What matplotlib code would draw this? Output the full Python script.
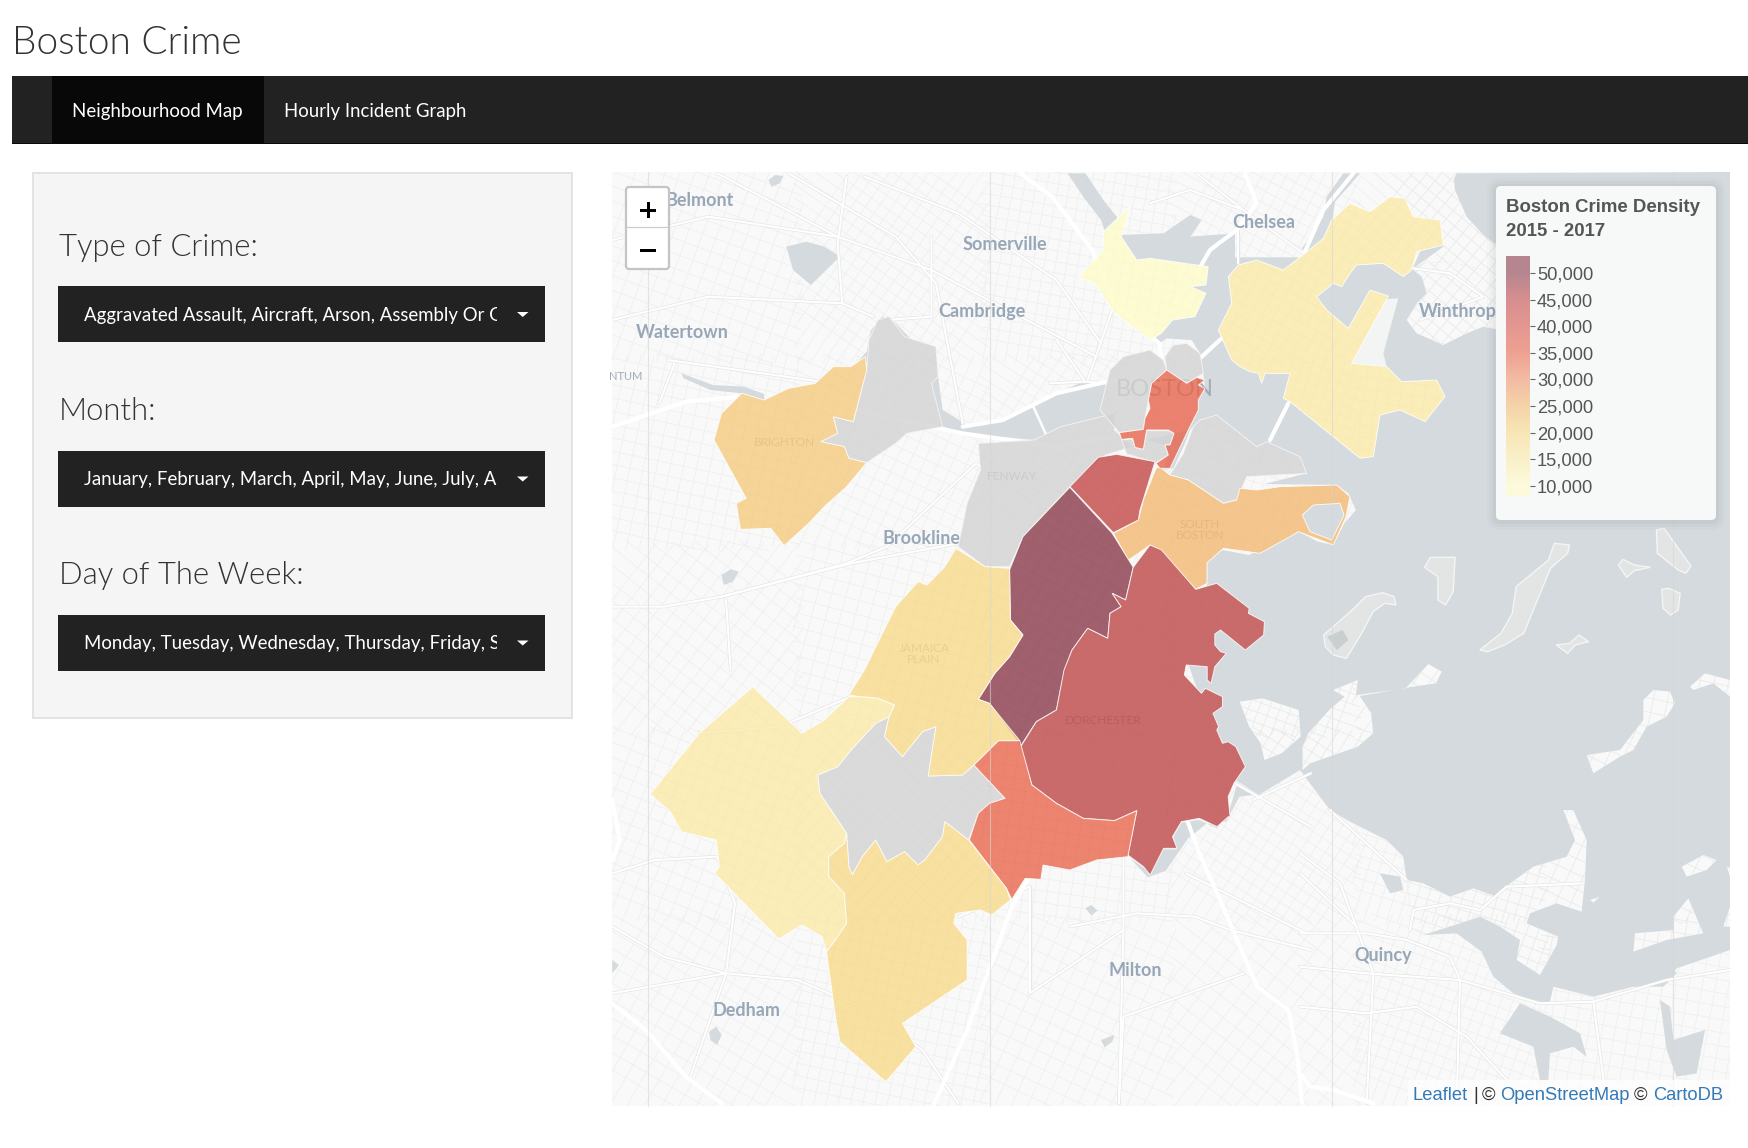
import matplotlib
matplotlib.use('Agg')
import matplotlib.pyplot as plt
import numpy as np
from matplotlib.collections import LineCollection
from matplotlib.colors import LinearSegmentedColormap, Normalize
from matplotlib.patches import Polygon, Rectangle, FancyBboxPatch, PathPatch
from matplotlib.path import Path
from matplotlib.ticker import FuncFormatter

# Tracing frames: (x origin, y origin, x scale, y scale) of the reference crops
def frame(x0, y0, sx, sy):
    return lambda pts: [(x0 + x / sx, y0 + y / sy) for x, y in pts]
Z3 = frame(610, 170, 2.24, 3)
Z4 = frame(610, 640, 2.24, 3)
Z5 = frame(1300, 640, 3, 3)
Z6 = frame(1150, 170, 3, 3)
Z7 = frame(1150, 480, 2.622, 3)
Z8 = frame(1050, 340, 3, 3)

# ---------- data ----------
TITLE = 'Boston Crime'
TABS = ['Neighbourhood Map', 'Hourly Incident Graph']
FILTER_LABELS = ['Type of Crime:', 'Month:', 'Day of The Week:']
FILTER_VALUES = ['Aggravated Assault, Aircraft, Arson, Assembly Or Gathering Violations',
                 'January, February, March, April, May, June, July, August, September',
                 'Monday, Tuesday, Wednesday, Thursday, Friday, Saturday, Sunday']
LEGEND_TITLE = ['Boston Crime Density', '2015 - 2017']
LEGEND_TICKS = [10000, 15000, 20000, 25000, 30000, 35000, 40000, 45000, 50000]
LEGEND_COLORS = ['#fffcc8', '#fceaa9', '#f8da8a', '#f4ba73', '#f0926a', '#e9674d', '#d8564b', '#c14848', '#8a3a4b']

NEIGHBOURHOODS = ['Brighton', 'Charlestown', 'East Boston', 'South Boston', 'South End', 'Downtown',
                  'Roxbury', 'Dorchester', 'Mattapan', 'Jamaica Plain', 'West Roxbury', 'Hyde Park']
CRIMES = [22500, 10000, 15000, 25000, 44500, 35500, 50000, 45000, 35000, 20000, 15000, 20000]

BRIGHTON = Z3([(572,560),(575,600),(565,650),(545,755),(500,740),(510,790),(472,815),(525,830),(535,865),(575,878),(530,950),(480,1010),(445,1060),(390,1127),(360,1075),(292,1078),(283,1000),(305,985),(233,810),(250,730),(295,670),(345,690),(400,655),(460,640),(500,590),(540,590)])
CHARLESTOWN = Z3([(1165,110),(1145,200),(1180,270),(1210,265),(1340,290),(1335,345),(1300,350),(1335,370),(1310,440),(1260,450),(1235,490),(1210,510),(1130,430),(1085,340),(1050,320),(1105,240),(1105,185)])
EAST_BOSTON = Z6([(600,100),(660,125),(720,80),(765,85),(790,140),(870,150),(880,225),(800,245),(785,300),(760,320),(700,280),(620,285),(600,310),(575,350),(550,340),(500,380),(530,420),(595,475),(660,360),(715,378),(605,580),(710,590),(755,635),(860,630),(885,680),(825,755),(750,720),(690,735),(670,860),(630,865),(420,695),(400,685),(420,610),(345,610),(335,640),(325,610),(300,605),(270,590),(245,570),(205,480),(245,400),(235,320),(265,285),(320,270),(400,300),(465,250),(520,205),(545,150)])
SOUTH_BOSTON = Z8([(190,580),(265,540),(280,480),(318,385),(328,380),(360,405),(415,420),(520,490),(560,480),(570,445),(620,450),(690,440),(860,435),(900,470),(888,530),(850,615),(790,592),(745,575),(720,590),(630,640),(520,625),(471,669),(471,730),(437,748),(334,635),(300,615),(265,640),(235,660)])
PLEASURE_BAY = Z8([(757,525),(780,575),(845,600),(882,525),(870,490),(790,495)])
SOUTH_END = Z8([(60,440),(145,352),(200,343),(315,365),(270,510),(265,540),(190,578)])
DOWNTOWN = Z8([(350,90),(410,130),(440,112),(465,120),(445,135),(465,145),(445,180),(445,210),(410,280),(360,385),(330,385),(318,370),(355,345),(345,315),(360,315),(372,280),(355,270),(290,270),(280,328),(255,322),(248,295),(215,298),(208,278),(280,268),(285,235),(300,205),(295,180),(305,130)])
ROXBURY = Z3([(1030,952),(1125,1090),(1172,1192),(1155,1290),(1125,1270),(1145,1310),(1120,1330),(1115,1405),(1070,1375),(1035,1440),(1018,1500)]) + \
          Z4([(1000,210),(955,245),(920,318),(850,190),(825,178),(862,100),(895,50)]) + \
          Z3([(925,1395),(897,1350),(895,1200),(925,1100)])
DORCHESTER = Z7([(0,195),(30,210),(120,328),(175,310),(260,385),(258,400),(300,425),(298,465),(250,510),(185,450),(170,462),(170,495),(185,515),(200,520),(170,560),(160,610),(150,600),(150,560),(95,555),(90,585),(135,640),(145,625),(190,650),(190,680),(165,700),(180,740),(175,750),(190,790),(205,785),(225,800),(250,860),(220,910),(205,950),(210,1010)]) + \
             Z4([(1385,530),(1360,560),(1320,535),(1280,545),(1260,590),(1270,625),(1240,625),(1210,705),(1195,680),(1160,645),(1180,512),(1130,542),(1060,535),(1000,490),(945,435),(920,320),(955,245),(1000,210),(1017,90)]) + \
             Z3([(1035,1440),(1070,1375),(1115,1405),(1120,1330),(1145,1310),(1125,1270),(1155,1290),(1172,1192)])
MATTAPAN = Z4([(870,302),(918,302),(945,435),(1000,490),(1060,535),(1130,542),(1180,512),(1160,650),(1090,660),(1030,690),(970,675),(965,718),(930,715),(900,778),(888,745),(805,600),(825,520),(850,490),(885,475),(815,375)])
JAMAICA_PLAIN = Z3([(775,1135),(840,1190),(895,1195),(897,1350),(925,1395)]) + \
                Z4([(895,50),(862,100),(825,178),(850,190),(918,302),(870,302),(815,375),(790,405),(713,408),(730,260),(700,275),(655,350),(615,290),(625,230),(637,195),(600,175),(560,170),(535,165),(570,90)]) + \
                Z3([(640,1310),(690,1235),(710,1245),(750,1190)])
WEST_ROXBURY = Z4([(320,140),(430,280),(480,240),(535,170),(560,170),(600,175),(637,195),(625,230),(595,250),(540,330),(510,380),(465,405),(470,460),(530,580),(525,610),(490,650),(490,710),(525,760),(530,850),(505,900),(485,935),(475,890),(430,855),(378,897),(235,700),(245,680),(238,600),(160,575),(135,515),(90,462),(200,280)])
HYDE_PARK = Z4([(543,705),(565,650),(595,600),(620,665),(660,635),(690,675),(705,660),(745,590),(750,545),(803,600),(888,745),(897,780),(855,825),(830,810),(775,820),(770,850),(800,900),(800,1020),(655,1150),(685,1220),(618,1325),(515,1205),(505,1130),(485,935),(505,900),(530,850),(525,760),(490,710),(490,650),(525,610),(530,580),(535,680)])
SHAPES = [BRIGHTON, CHARLESTOWN, EAST_BOSTON, SOUTH_BOSTON, SOUTH_END, DOWNTOWN, ROXBURY, DORCHESTER,
          MATTAPAN, JAMAICA_PLAIN, WEST_ROXBURY, HYDE_PARK]

NO_DATA_SHAPES = [
    Z3([(600,450),(625,440),(660,500),(730,530),(735,620),(720,640),(745,770),(665,790),(640,820),(575,878),(535,865),(525,830),(472,815),(510,790),(500,740),(545,755),(565,650),(575,600),(580,510)]),
    Z3([(825,820),(950,810),(1010,770),(1130,730),(1130,780),(1170,830),(1110,855),(1030,950),(925,1100),(895,1190),(840,1190),(780,1130),(800,1000),(830,900)]),
    Z8([(150,210),(180,90),(220,50),(300,30),(340,60),(350,90),(305,130),(295,180),(285,235),(280,268),(208,278)]),
    Z8([(345,50),(370,15),(410,10),(450,40),(460,100),(440,112),(410,130),(350,90)]),
    Z8([(215,300),(248,297),(255,322),(280,328),(290,272),(355,272),(372,280),(360,315),(345,315),(355,345),(318,368),(230,342)]),
    Z8([(360,405),(415,420),(520,490),(560,480),(590,410),(770,400),(750,350),(650,305),(620,320),(500,225),(450,240),(430,260),(400,340)]),
    Z4([(465,405),(510,380),(540,330),(595,250),(625,230),(615,290),(655,350),(700,275),(730,260),(713,408),(790,405),(815,375),(885,475),(850,490),(825,520),(803,600),(750,545),(745,590),(705,660),(690,675),(660,635),(620,665),(595,600),(565,650),(543,705),(535,680),(530,580),(470,460)]),
]

HARBOUR = Z6([(0,490),(170,290),(210,262),(430,262),(620,270),(790,290),(920,10)]) + [(1730,172),(1730,950)] + \
          Z5([(1290,930),(1130,985),(1110,1010),(1000,1040),(880,1070),(760,1040),(750,1085),(720,1090),(640,1060),(580,1010),(545,935),(470,880),(370,885),(330,860),(330,800),(320,720),(310,650),(260,600),(150,545),(90,510),(30,430),(0,390)]) + \
          Z7([(285,945),(225,900),(200,880),(100,550),(150,310),(150,240),(190,210),(260,225),(390,155),(440,185),(480,195),(510,130),(540,90),(520,40),(490,15),(300,12)]) + \
          Z8([(770,400),(750,350),(650,305),(620,320),(500,225),(450,240),(430,260),(410,280),(445,210),(445,180),(465,145),(460,100),(450,40),(425,0)]) + \
          Z6([(120,510),(50,505),(20,525)])
CHARLES_RIVER = Z3([(1130,640),(1060,635),(950,700),(860,760),(800,765),(745,720),(735,620),(728,530),(680,515),(640,460),(610,440),(585,480),(575,545),(545,590),(575,580),(745,770),(790,790),(950,810),(1010,770),(1130,730),(1145,700)])
CHARLES_UPPER = Z3([(345,672),(300,650),(230,645),(160,610),(165,625),(225,660),(295,670),(345,690)])
FORT_POINT = Z8([(290,300),(375,280),(420,270),(405,310),(370,385),(340,390),(355,345),(345,315)])
MYSTIC_RIVER = Z3([(1025,10),(1065,10),(1105,90),(1135,140),(1145,195),(1240,190),(1300,135),(1325,150),(1300,200),(1400,190),(1400,300),(1340,290),(1180,270),(1120,230),(1100,150),(1060,80)])
CHELSEA_CREEK = Z6([(580,10),(630,10),(600,45),(555,95),(545,160),(520,205),(470,255),(455,235),(490,190),(520,140),(530,80),(555,45)])
NEPONSET = Z4([(1165,655),(1205,712),(1245,692),(1295,595),(1335,552),(1380,545),(1410,470),(1440,465),(1405,430),(1390,500),(1360,565),(1320,540),(1280,548),(1262,590),(1270,628),(1240,628),(1210,705),(1195,682)])
LAKES = [Z3([(395,230),(440,215),(480,230),(515,260),(450,345),(410,300)]),
         Z3([(355,30),(370,15),(388,18),(380,40),(362,50)]),
         Z3([(250,1215),(270,1198),(288,1205),(275,1235),(255,1245)]),
         Z4([(1065,805),(1078,795),(1092,812),(1078,826)]),
         Z4([(222,1175),(238,1160),(250,1185),(240,1215),(225,1200)]),
         Z4([(1100,1200),(1130,1185),(1125,1205),(1108,1222)]),
         Z4([(5,960),(20,975),(5,1000)]),
         Z5([(600,1180),(660,1090),(750,1130),(840,1180),(860,1250),(820,1220),(750,1240),(745,1320),(720,1320),(700,1220)]),
         Z5([(1080,1080),(1110,1100),(1120,1200),(1215,1170),(1190,1300),(1130,1310),(1100,1230)]),
         Z5([(1000,1000),(1060,1020),(1100,960),(1130,1000),(1090,1040),(1000,1040)]),
         Z5([(240,700),(300,710),(310,750),(270,760)])]
LAND_PATCHES = [
    Z6([(630,10),(910,10),(915,60),(950,140),(1000,195),(1040,225),(1040,300),(1000,300),(900,275),(820,280),(790,295),(880,230),(870,150),(790,140),(760,80)]),
    Z6([(790,300),(820,280),(900,275),(1000,300),(1050,300),(1050,480),(1000,470),(950,490),(880,525),(800,490),(770,450),(800,400),(830,370),(815,320)]),
    Z7([(480,630),(545,600),(540,645),(670,625),(730,552),(765,575),(750,610),(690,620),(550,648),(580,700),(585,760),(545,800),(470,830),(420,850),(400,870),(400,800),(415,760),(470,690),(510,650)]),
    Z7([(235,665),(295,655),(390,690),(395,770),(345,820),(300,840),(290,790),(260,740)]),
    Z5([(320,720),(370,730),(450,770),(520,745),(590,770),(630,730),(700,680),(800,650),(825,600),(790,510),(820,510),(860,600),(855,720),(845,815),(770,790),(690,820),(680,850),(775,890),(770,915),(720,1005),(650,960),(660,900),(600,860),(540,830),(480,850),(370,885),(330,860),(330,800)]),
    Z5([(1005,880),(1120,870),(1120,830),(1165,775),(1210,880),(1100,900),(1000,935)]),
    Z5([(860,345),(960,330),(1030,240),(1030,180),(1060,150),(1110,155),(1125,190),(1100,230),(1040,260),(1000,330),(960,350),(880,400)]),
    Z5([(1145,680),(1210,645),(1250,660),(1220,690),(1160,710)]),
    Z5([(1170,140),(1215,100),(1290,120),(1290,170),(1240,130),(1180,150)]),
    Z5([(870,780),(900,770),(880,788)]),
    Z5([(1270,860),(1290,800),(1290,860)]),
    Z5([(1282,680),(1290,680),(1290,710)]),
]
AIRPORT = Z6([(660,390),(745,385),(700,550),(710,590),(605,580)])
ISLANDS = [
    Z7([(455,465),(535,385),(565,350),(610,338),(640,350),(645,375),(615,370),(585,395),(555,460),(515,535),(480,525),(460,500)]),
    Z7([(720,262),(735,232),(800,232),(795,335),(775,375),(755,360),(755,290)]),
    Z7([(865,510),(920,460),(950,400),(960,320),(1045,240),(1060,190),(1100,195),(1095,220),(1050,265),(980,460),(930,495),(885,515)]),
    Z7([(1228,255),(1240,238),(1270,255),(1312,262),(1270,272),(1250,292)]),
    Z7([(1328,150),(1348,145),(1418,258),(1405,280),(1385,270),(1330,220)]),
    Z7([(1342,328),(1360,325),(1390,340),(1385,390),(1365,405),(1345,385)]),
    Z7([(1065,495),(1100,490),(1125,465),(1150,485),(1115,495),(1095,520)]),
]
ISLAND_POND = Z7([(465,470),(505,450),(520,480),(490,510)])

MAJOR_ROADS = [
    Z3([(5,770),(170,695),(295,680)]), Z3([(545,720),(790,790),(1000,830),(1130,800)]),
    Z3([(920,10),(990,80),(1080,240),(1130,400),(1230,520),(1245,640)]),
    Z6([(285,10),(320,100),(260,180),(180,240),(140,310)]),
    Z3([(790,770),(880,750),(1000,670),(1130,630),(1240,640)]),
    Z4([(1290,530),(1320,640),(1370,790),(1430,980),(1450,1040),(1520,1110),(1540,1250),(1550,1390)]),
    Z4([(5,1090),(80,1170),(170,1310),(250,1390)]),
    Z4([(725,1395),(800,1170),(900,800),(935,720)]),
    Z4([(5,480),(22,600),(5,660)]),
    Z5([(0,1300),(30,1340),(100,1350),(220,1390)]),
    Z6([(610,10),(520,120),(465,245)]),
    Z6([(415,700),(360,810)]), Z6([(150,565),(215,505)]),
]
MINOR_ROADS = [
    Z4([(940,740),(940,1060)]), Z4([(1150,650),(1150,870),(1140,1390)]),
    Z4([(5,700),(100,660),(240,650)]), Z4([(260,1000),(180,1310)]), Z4([(420,1020),(260,1000),(5,1060)]),
    Z3([(5,1310),(120,1310),(250,1280),(530,1180),(620,1130),(820,880)]),
    Z3([(530,20),(510,220),(520,400),(590,440)]), Z3([(720,200),(720,440),(620,450)]),
    Z3([(240,10),(510,200),(720,300),(1090,560)]), Z3([(130,570),(500,640)]),
    Z3([(400,10),(640,200),(730,340),(790,760)]), Z3([(570,20),(780,130),(1000,330),(1100,520)]),
    Z3([(5,450),(220,380),(520,400)]), Z3([(145,580),(110,700)]), Z3([(5,210),(220,140),(510,200)]),
    Z3([(820,880),(1000,1030),(1030,950)]), Z3([(780,1120),(540,1180),(250,1280)]),
    Z3([(260,1290),(270,1500)]), Z3([(1070,630),(1130,400)]), Z3([(945,700),(1030,950)]),
    Z4([(1030,860),(1180,820),(1310,830),(1390,870),(1570,930)]), Z4([(1440,480),(1570,400)]),
    Z4([(1400,430),(1570,560)]), Z4([(1290,700),(1560,880)]), Z4([(780,830),(940,740)]),
    Z4([(200,280),(380,260),(540,170)]), Z4([(240,650),(280,790),(260,1000)]),
    Z4([(5,860),(120,950),(260,1000)]), Z4([(420,1020),(560,1100),(700,1230)]),
    Z4([(700,1230),(780,1390)]), Z4([(940,1060),(1150,870)]), Z4([(1420,1000),(1150,1130),(1140,1390)]),
    Z5([(0,640),(120,730),(220,1000),(200,1390)]),
    Z5([(0,880),(200,880),(320,900),(450,950),(480,1020),(720,1090),(880,1085),(1100,1020),(1290,990)]),
    Z5([(330,870),(340,810),(450,790),(540,810),(620,740),(850,730)]),
    Z5([(0,1100),(200,1120),(350,1100),(500,1190),(620,1320)]),
    Z5([(90,510),(320,720)]), Z5([(170,860),(0,700)]), Z5([(480,1020),(470,1390)]),
    Z5([(880,1085),(920,1390)]), Z5([(0,980),(200,1000),(480,1020)]),
    Z6([(0,100),(120,60),(280,120),(460,250)]), Z6([(140,10),(280,120)]), Z6([(265,170),(265,280)]),
    Z6([(790,295),(900,310),(1000,380)]), Z6([(810,450),(1000,380)]),
    Z8([(0,130),(105,125),(180,130)]), Z8([(105,125),(20,0)]),
]
# street texture per map tile, row by row: street direction (degrees) and block size (px)
TILE_SIZE = 190
STREET_ANGLES = [[20, 35, 10, 28, 40, 15],
                 [12, 25, 33, 18, 8, 30],
                 [38, 15, 27, 20, 35, 12],
                 [22, 42, 8, 33, 17, 25],
                 [30, 12, 25, 38, 20, 10]]
STREET_SIZES = [[14, 11, 11, 11, 11, 14],
                [13, 13, 11, 10, 12, 14],
                [14, 14, 12, 10, 13, 14],
                [14, 12, 12, 11, 11, 14],
                [15, 12, 15, 16, 11, 13]]

BASEMAP_LABELS = [('Belmont', 700, 201, 13), ('Somerville', 1005, 245, 13), ('Chelsea', 1264, 223, 13),
                  ('Cambridge', 982, 311, 13), ('Watertown', 682, 332, 13), ('Winthrop', 1458, 311, 13),
                  ('NTUM', 626, 377, 8), ('BOSTON', 1165, 390, 17), ('FENWAY', 1012, 476, 8.5),
                  ('Brookline', 921, 538, 13), ('Milton', 1135, 970, 13), ('Dedham', 747, 1011, 13),
                  ('Quincy', 1383, 955, 13), ('BRIGHTON', 784, 442, 8.5), ('SOUTH\nBOSTON', 1200, 530, 8.5),
                  ('JAMAICA\nPLAIN', 924, 654, 8.5), ('DORCHESTER', 1103, 720, 8.5)]

# ---------- page ----------
plt.rcParams['font.family'] = ['Lato', 'Noto Sans', 'DejaVu Sans']
fig = plt.figure(figsize=(17.48, 11.48), dpi=100, facecolor='white')
ax = fig.add_axes([0, 0, 1, 1])
ax.set_xlim(0, 1748)
ax.set_ylim(1148, 0)
ax.axis('off')

ax.text(12.5, 54, TITLE, fontsize=28, fontweight=300, color='#333333', va='baseline')
ax.add_patch(Rectangle((12, 76), 1736, 67.5, fc='#222222', ec='none'))
ax.add_patch(Rectangle((12, 142.5), 1736, 1.5, fc='#0a0a0a', ec='none'))
ax.add_patch(Rectangle((52, 76), 212.4, 66.5, fc='#080808', ec='none'))
ax.text(72, 111, TABS[0], fontsize=13.4, color='white', va='center')
ax.text(284, 111, TABS[1], fontsize=13.4, color='white', va='center')

ax.add_patch(Rectangle((33, 172.5), 538.5, 545.5, fc='#f5f5f5', ec='#e3e3e3', lw=1.4))
LABEL_BASE = [255.5, 419.5, 583.5]
BOX_TOP = [286, 450.5, 614.5]
for label, value, base, top in zip(FILTER_LABELS, FILTER_VALUES, LABEL_BASE, BOX_TOP):
    ax.text(59, base, label, fontsize=22.3, fontweight=300, color='#333333', va='baseline')
    ax.add_patch(Rectangle((58, top), 486.5, 56, fc='#222222', ec='none'))
    t = ax.text(84.3, top + 29, value, fontsize=13.4, color='white', va='center')
    clip = Rectangle((80, top), 417, 56, transform=ax.transData)
    t.set_clip_path(clip)
    t.set_clip_on(True)
    ax.add_patch(Polygon([(517, top + 26), (528.5, top + 26), (522.7, top + 31)], fc='white', ec='none'))

# ---------- map ----------
LAND, WATER = '#f8f9f8', '#d4dadd'
map_clip = Rectangle((612, 172), 1118, 934, transform=ax.transData)

def add(patch, z):
    patch.set_zorder(z)
    ax.add_patch(patch)
    patch.set_clip_path(map_clip)
    return patch

def shape_path(points, hole=None):
    verts = list(points) + [points[0]]
    codes = [Path.MOVETO] + [Path.LINETO] * (len(points) - 1) + [Path.CLOSEPOLY]
    if hole is not None:
        verts += list(hole) + [hole[0]]
        codes += [Path.MOVETO] + [Path.LINETO] * (len(hole) - 1) + [Path.CLOSEPOLY]
    return Path(verts, codes)

add(Rectangle((612, 172), 1118, 934, fc=LAND, ec='none'), 1)

# street texture: every tile gets a small grid of streets in its own direction
segments = []
for r, (angles, sizes) in enumerate(zip(STREET_ANGLES, STREET_SIZES)):
    for c, (ang, size) in enumerate(zip(angles, sizes)):
        cx, cy = 612 + (c + 0.5) * 1118 / 6, 172 + (r + 0.5) * 934 / 5
        half = TILE_SIZE * 0.52
        for a in (ang, ang + 90):
            ca, sa = np.cos(np.radians(a)), np.sin(np.radians(a))
            for off in np.arange(-half, half, size):
                ts = np.linspace(-half * 1.5, half * 1.5, 60)
                xs = cx + ts * ca - off * sa
                ys = cy + ts * sa + off * ca
                keep = (np.abs(xs - cx) <= half) & (np.abs(ys - cy) <= half)
                if keep.sum() > 1:
                    segments.append(np.column_stack([xs[keep], ys[keep]]))
outside = LineCollection(segments, colors='#eef0ee', linewidths=0.55, zorder=1.5)
ax.add_collection(outside)
outside.set_clip_path(map_clip)

for pts in [HARBOUR, CHARLES_RIVER, MYSTIC_RIVER, CHARLES_UPPER]:
    add(Polygon(pts, fc=WATER, ec='none'), 2)
for pts in LAND_PATCHES:
    add(Polygon(pts, fc=LAND, ec='none'), 3)
add(Polygon(AIRPORT, fc='#f3f5f4', ec='none'), 3)
for pts in LAKES + [CHELSEA_CREEK, NEPONSET]:
    add(Polygon(pts, fc=WATER, ec='none'), 3.2)
for s in SHAPES + NO_DATA_SHAPES:
    hole = PLEASURE_BAY if s is SOUTH_BOSTON else None
    add(PathPatch(shape_path(s, hole), fc=LAND, ec='none'), 3.5)

# the same texture inside everything laid over the water
inside = LineCollection(segments, colors='#e8eae8', linewidths=0.55, zorder=3.55)
ax.add_collection(inside)
covered = Path.make_compound_path(*[shape_path(s) for s in SHAPES + NO_DATA_SHAPES + LAND_PATCHES])
inside.set_clip_path(covered, ax.transData)

add(Polygon(FORT_POINT, fc=WATER, ec='none'), 3.6)
add(Polygon(PLEASURE_BAY, fc=WATER, ec='none'), 3.6)
for pts in ISLANDS:
    add(Polygon(pts, fc='#e3e4e4', ec='#f4f5f5', lw=1), 3.7)
add(Polygon(ISLAND_POND, fc='#c9ced1', ec='none'), 3.8)

for pts in MINOR_ROADS:
    x, y = zip(*pts)
    l, = ax.plot(x, y, color='#ffffff', lw=1.5, zorder=4, solid_capstyle='round')
    l.set_clip_path(map_clip)
    l2, = ax.plot(x, y, color='#e4e6e4', lw=2.4, zorder=3.9, solid_capstyle='round')
    l2.set_clip_path(map_clip)
for pts in MAJOR_ROADS:
    x, y = zip(*pts)
    l, = ax.plot(x, y, color='#ffffff', lw=3.0, zorder=4.2, solid_capstyle='round')
    l.set_clip_path(map_clip)

for name, x, y, size in BASEMAP_LABELS:
    upper = name.isupper() or '\n' in name
    t = ax.text(x, y, name, fontsize=size, color='#98a7b8' if not upper else '#a2acb6', ha='center', va='center',
                fontweight='bold' if not upper else 'normal', zorder=5, linespacing=1.0)
    t.set_clip_path(map_clip)

cmap = LinearSegmentedColormap.from_list('crime', list(zip(np.linspace(0, 1, len(LEGEND_COLORS)), LEGEND_COLORS)))
norm = Normalize(min(LEGEND_TICKS), max(LEGEND_TICKS))
for s in NO_DATA_SHAPES:
    add(Polygon(s, fc='#d3d3d3', ec='#f5f5f5', lw=0.7, alpha=0.8), 6)
for s, v in zip(SHAPES, CRIMES):
    hole = PLEASURE_BAY if s is SOUTH_BOSTON else None
    add(PathPatch(shape_path(s, hole), fc=cmap(norm(v)), ec='white', lw=0.7, alpha=0.8), 7)

SEAMS = [648.4, 990, 1331.7, 1672.7]
for sx in SEAMS:
    ax.plot([sx, sx], [172, 1106], color='#d6d6d6', lw=0.8, alpha=0.6, zorder=8)

# zoom control
ax.add_patch(FancyBboxPatch((626, 187), 43, 82, boxstyle='round,pad=0,rounding_size=3', fc='white', ec='#c4c4c4', lw=1.6, zorder=10))
ax.plot([626, 669], [227, 227], color='#cccccc', lw=0.9, zorder=11)
ax.add_patch(Rectangle((640, 208.5), 16, 3, fc='black', ec='none', zorder=11))
ax.add_patch(Rectangle((646.5, 202), 3, 16, fc='black', ec='none', zorder=11))
ax.add_patch(Rectangle((640, 248.5), 16, 3, fc='black', ec='none', zorder=11))

# attribution
ax.add_patch(Rectangle((1408, 1080), 322, 26, fc='white', ec='none', alpha=0.7, zorder=10))
ATTRIB = [('Leaflet', 1413, '#337ab7'), ('|', 1473, '#333333'), ('©', 1482, '#333333'), ('OpenStreetMap', 1500, '#337ab7'),
          ('©', 1634, '#333333'), ('CartoDB', 1653, '#337ab7')]
for s, x, c in ATTRIB:
    ax.text(x, 1095, s, fontsize=13.2, family='Liberation Sans', color=c, va='center', zorder=11)

# legend
for pad, a in [(9, 0.025), (6, 0.03), (3, 0.04)]:
    ax.add_patch(FancyBboxPatch((1496 - pad, 186 - pad + 1), 220 + 2 * pad, 334 + 2 * pad,
                                boxstyle='round,pad=0,rounding_size=%d' % (5 + pad), fc='#404040', ec='none', alpha=a, zorder=11))
ax.add_patch(FancyBboxPatch((1496, 186), 220, 334, boxstyle='round,pad=0,rounding_size=5', fc='#f7f9f9', ec='none', zorder=12))
for s, y in zip(LEGEND_TITLE, [208, 232]):
    ax.text(1506, y, s, fontsize=13.45, fontweight='bold', family='Liberation Sans', color='#555555', va='center', zorder=13)

bar = fig.add_axes([1506 / 1748, 1 - 496 / 1148, 24 / 1748, 240 / 1148])
vals = np.linspace(53190, 8120, 256).reshape(-1, 1)
bar.imshow(cmap(norm(vals)), extent=[0, 1, 8120, 53190], aspect='auto', alpha=0.6, interpolation='bilinear')
bar.patch.set_alpha(0)
bar.set_xticks([])
bar.yaxis.tick_right()
bar.set_yticks(LEGEND_TICKS)
bar.yaxis.set_major_formatter(FuncFormatter(lambda v, _: f'{int(v):,}'))
bar.tick_params(axis='y', length=3.5, width=0.8, color='#666666', pad=1.5, labelsize=13.2, labelcolor='#555555')
for lab in bar.get_yticklabels():
    lab.set_family('Liberation Sans')
for sp in bar.spines.values():
    sp.set_visible(False)

fig.savefig('out.png', dpi=100, facecolor='white')
